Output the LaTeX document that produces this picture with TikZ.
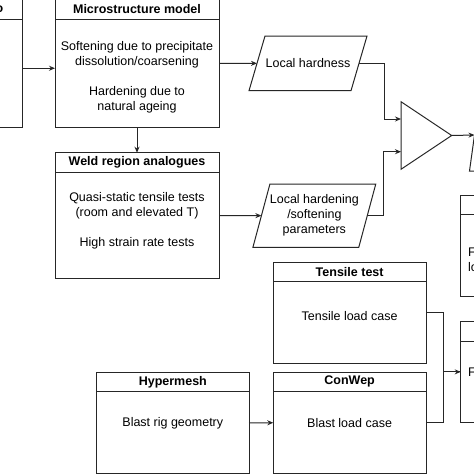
\documentclass[tikz,border=0pt]{standalone}
\usepackage{fontspec}
\setmainfont{Liberation Sans}
\usetikzlibrary{arrows.meta,calc}
\begin{document}
\begin{tikzpicture}[x=1pt,y=-1pt,
  ln/.style={draw=black!85,line width=1pt},
  arr/.style={ln,-{Stealth[length=6pt,width=5pt]}},
  box/.style={ln,rectangle,inner sep=0pt,outer sep=0pt,anchor=north west},
  hdr/.style={font=\fontsize{12.5pt}{15pt}\selectfont\bfseries,inner sep=0pt},
  body/.style={font=\fontsize{12.5pt}{15pt}\selectfont,align=center,inner sep=0pt},
  ghost/.style={rectangle,inner sep=0pt,outer sep=0pt,align=center,font=\fontsize{12.5pt}{15pt}\selectfont},
]
\fill[white] (0,0) rectangle (474,474);
\useasboundingbox (0,0) rectangle (474,474);

% boxes
\node[box,minimum width=120pt,minimum height=127.3pt] (left) at (-98,-0.3) {};
\draw[ln] ([yshift=-19.5pt]left.north west) -- ([yshift=-19.5pt]left.north east);
\node[hdr,anchor=east] (leftH) at (3.5,9.5) {o};

\node[box,minimum width=164pt,minimum height=127.3pt] (micro) at (55,-0.3) {};
\draw[ln] ([yshift=-19.5pt]micro.north west) -- ([yshift=-19.5pt]micro.north east);
\node[hdr] (microH) at ([yshift=-9.75pt]micro.north) {Microstructure model};
\node[body] (microB) at (137,77.5) {Softening due to precipitate\\dissolution/coarsening\\[15pt]Hardening due to\\natural ageing};

\node[box,minimum width=164pt,minimum height=125.6pt] (weld) at (55,152.7) {};
\draw[ln] ([yshift=-19.5pt]weld.north west) -- ([yshift=-19.5pt]weld.north east);
\node[hdr] (weldH) at ([yshift=-9.75pt]weld.north) {Weld region analogues};
\node[body] (weldB) at (137,220.5) {Quasi-static tensile tests\\(room and elevated T)\\[15pt]High strain rate tests};

\node[box,minimum width=152.7pt,minimum height=101pt] (tens) at (273.3,262.3) {};
\draw[ln] ([yshift=-19.5pt]tens.north west) -- ([yshift=-19.5pt]tens.north east);
\node[hdr] (tensH) at ([yshift=-9.75pt]tens.north) {Tensile test};
\node[body] (tensB) at (349.6,316.5) {Tensile load case};

\node[box,minimum width=152.3pt,minimum height=101.2pt] (hyper) at (96.7,372.3) {};
\draw[ln] ([yshift=-19.5pt]hyper.north west) -- ([yshift=-19.5pt]hyper.north east);
\node[hdr] (hyperH) at ([yshift=-9.75pt]hyper.north) {Hypermesh};
\node[body] (hyperB) at (172.8,423) {Blast rig geometry};

\node[box,minimum width=152.7pt,minimum height=101.5pt] (conwep) at (273.3,372) {};
\draw[ln] ([yshift=-19.5pt]conwep.north west) -- ([yshift=-19.5pt]conwep.north east);
\node[hdr] (conwepH) at ([yshift=-9.75pt]conwep.north) {ConWep};
\node[body] (conwepB) at (349.6,423) {Blast load case};

\node[box,minimum width=150pt,minimum height=100.3pt] (fe1) at (460.7,195.7) {};
\draw[ln] ([yshift=-19pt]fe1.north west) -- ([yshift=-19pt]fe1.north east);
\node[body,anchor=west,align=left] (fe1B) at (468,259.5) {F\\lo};

\node[box,minimum width=150pt,minimum height=101.7pt] (fe2) at (460.7,321) {};
\draw[ln] ([yshift=-20pt]fe2.north west) -- ([yshift=-20pt]fe2.north east);
\node[body,anchor=west] (fe2B) at (468,371.7) {F};

% parallelograms
\node[ghost,minimum width=102pt,minimum height=54.7pt] (lh) at (308,63.35) {Local hardness};
\draw[ln] ([xshift=-8pt]lh.south west) -- ([xshift=8pt]lh.north west) -- ([xshift=8pt]lh.north east) -- ([xshift=-8pt]lh.south east) -- cycle;

\node[ghost,minimum width=105.85pt,minimum height=63.3pt] (lhd) at (314.35,215.65) {Local hardening\\/softening\\parameters};
\draw[ln] ([xshift=-8.5pt]lhd.south west) -- ([xshift=8.5pt]lhd.north west) -- ([xshift=8.5pt]lhd.north east) -- ([xshift=-8.5pt]lhd.south east) -- cycle;

\node[ghost,minimum width=100pt,minimum height=72pt] (outp) at (524.5,135) {};
\draw[ln] ([xshift=-5pt]outp.south west) -- ([xshift=5pt]outp.north west) -- ([xshift=5pt]outp.north east) -- ([xshift=-5pt]outp.south east) -- cycle;

% triangle
\node[ghost,minimum width=50.7pt,minimum height=67.6pt] (sum) at (426.35,135.5) {};
\draw[ln] (sum.north west) -- (sum.east) -- (sum.south west) -- cycle;

% connectors
\draw[arr] ([yshift=-4.9pt]left.east) -- ([yshift=-4.9pt]micro.west);
\draw[arr] (micro.east) -- (lh.west);
\draw[arr] (micro.south) -- (weld.north);
\draw[arr] (weld.east) -- (lhd.west);
\draw[arr] (lh.east) -- ++(25,0) |- ([yshift=16.5pt]sum.west);
\draw[arr] (lhd.east) -- ++(16.65,0) |- ([yshift=-16.2pt]sum.west);
\draw[arr] (sum.east) -- (outp.west);
\draw[arr] (tens.east) -- ++(17.3,0) |- (fe2.west);
\draw[ln] (conwep.east) -- ++(17.3,0) |- (fe2.west);
\draw[arr] (hyper.east) -- (conwep.west);
\end{tikzpicture}
\end{document}
